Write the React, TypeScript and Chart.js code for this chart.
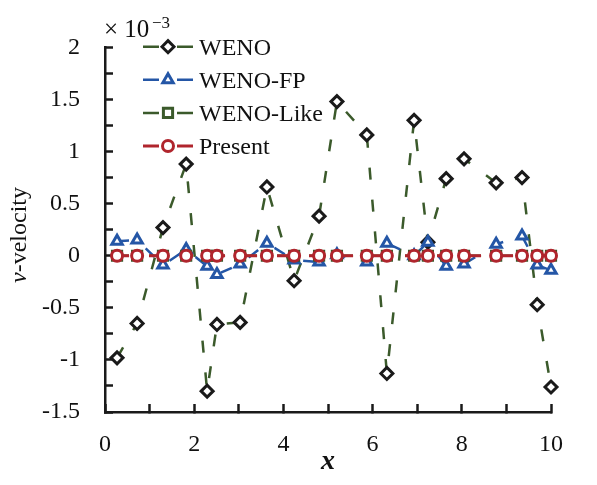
import React, { useEffect, useRef } from 'react';
import { Chart, registerables } from 'chart.js';
import { drawPoint } from 'chart.js/helpers';

Chart.register(...registerables);

// ---- data (y values in units of 1e-3) ----
const xValues = [0.27, 0.72, 1.30, 1.82, 2.29, 2.51, 3.03, 3.63, 4.24, 4.80, 5.20, 5.87, 6.32, 6.93, 7.24, 7.65, 8.05, 8.77, 9.35, 9.69, 10.0];
const wenoValues = [-0.98, -0.65, 0.27, 0.88, -1.30, -0.66, -0.64, 0.66, -0.24, 0.38, 1.48, 1.16, -1.13, 1.30, 0.13, 0.74, 0.93, 0.70, 0.75, -0.47, -1.26];
const wenoFpValues = [0.14, 0.15, -0.09, 0.06, -0.10, -0.18, -0.08, 0.12, -0.04, -0.06, 0.01, -0.06, 0.12, 0.0, 0.13, -0.10, -0.08, 0.11, 0.19, -0.09, -0.14];
const wenoLikeValues = [0, 0, 0, 0, 0, 0, 0, 0, 0, 0, 0, 0, 0, 0, 0, 0, 0, 0, 0, 0, 0];
const presentValues = [0, 0, 0, 0, 0, 0, 0, 0, 0, 0, 0, 0, 0, 0, 0, 0, 0, 0, 0, 0, 0];
const seriesNames = ['WENO', 'WENO-FP', 'WENO-Like', 'Present'];
const xTickLabels = ['0', '2', '4', '6', '8', '10'];
const yTickLabels = ['-1.5', '-1', '-0.5', '0', '0.5', '1', '1.5', '2'];

const FONT = "'Liberation Serif', 'Times New Roman', serif";
const AXIS = '#1a1a1a';
const DASH = [12, 20];

const toPoints = (ys: number[]) => xValues.map((x, i) => ({ x, y: ys[i] }));

const extrasPlugin = {
  id: 'extras',
  afterDraw(chart: any) {
    const ctx = chart.ctx as CanvasRenderingContext2D;
    // legend
    chart.data.datasets.forEach((ds: any, i: number) => {
      const y = 46.7 + i * 33.1;
      ctx.save();
      ctx.strokeStyle = ds.borderColor;
      ctx.lineWidth = ds.borderWidth;
      ctx.beginPath();
      ctx.moveTo(143, y);
      ctx.lineTo(159, y);
      ctx.moveTo(177, y);
      ctx.lineTo(193, y);
      ctx.stroke();
      ctx.fillStyle = ds.pointBackgroundColor;
      ctx.strokeStyle = ds.pointBorderColor;
      ctx.lineWidth = ds.pointBorderWidth;
      drawPoint(ctx, { pointStyle: ds.pointStyle, radius: ds.pointRadius, rotation: 0, borderWidth: ds.pointBorderWidth } as any, 168, y);
      ctx.fillStyle = '#111';
      ctx.font = `24px ${FONT}`;
      ctx.textAlign = 'left';
      ctx.textBaseline = 'alphabetic';
      ctx.fillText(ds.label, 199, y + 8);
      ctx.restore();
    });

    // multiplier ×10^-3
    ctx.save();
    ctx.fillStyle = '#111';
    ctx.textBaseline = 'alphabetic';
    ctx.textAlign = 'left';
    ctx.font = `25px ${FONT}`;
    ctx.fillText('\u00d7 10', 104, 37);
    ctx.font = `17px ${FONT}`;
    ctx.fillText('\u22123', 152, 28);
    ctx.restore();

    // y title: italic v + "-velocity"
    ctx.save();
    ctx.fillStyle = '#111';
    ctx.translate(26, 235);
    ctx.rotate(-Math.PI / 2);
    ctx.textBaseline = 'alphabetic';
    ctx.textAlign = 'left';
    ctx.font = `italic 24px ${FONT}`;
    const w1 = ctx.measureText('v').width;
    ctx.font = `24px ${FONT}`;
    const w2 = ctx.measureText('-velocity').width;
    const start = -(w1 + w2) / 2;
    ctx.font = `italic 24px ${FONT}`;
    ctx.fillText('v', start, 0);
    ctx.font = `24px ${FONT}`;
    ctx.fillText('-velocity', start + w1, 0);
    ctx.restore();
  },
};

export default function App() {
  const ref = useRef<HTMLCanvasElement | null>(null);

  useEffect(() => {
    if (!ref.current) return;
    const common = {
      borderWidth: 2.5,
      borderDash: DASH,
      pointBackgroundColor: '#ffffff',
      pointBorderWidth: 3,
      pointRadius: 5.5,
      tension: 0,
      clip: false as any,
    };
    const chart = new Chart(ref.current, {
      type: 'line',
      data: {
        datasets: [
          {
            ...common,
            label: seriesNames[0],
            data: toPoints(wenoValues),
            borderColor: '#3b5a2b',
            pointBorderColor: '#1a1a1a',
            pointStyle: 'rectRot',
            pointRadius: 6,
            order: 4,
          },
          {
            ...common,
            label: seriesNames[1],
            data: toPoints(wenoFpValues),
            borderColor: '#2456a6',
            pointBorderColor: '#2456a6',
            pointStyle: 'triangle',
            pointRadius: 6,
            order: 3,
          },
          {
            ...common,
            label: seriesNames[2],
            data: toPoints(wenoLikeValues),
            borderColor: '#3b5a2b',
            pointBorderColor: '#3b5a2b',
            pointStyle: 'rect',
            pointRadius: 6.5,
            order: 2,
          },
          {
            ...common,
            label: seriesNames[3],
            data: toPoints(presentValues),
            borderColor: '#b0252d',
            pointBorderColor: '#b0252d',
            pointStyle: 'circle',
            pointRadius: 5.5,
            borderWidth: 3,
            order: 1,
          },
        ] as any,
      },
      options: {
        animation: false,
        responsive: false,
        devicePixelRatio: 1,
        layout: { padding: { top: 45, right: 46, left: 0, bottom: 0 } },
        plugins: {
          legend: { display: false },
          tooltip: { enabled: false },
        },
        scales: {
          x: {
            type: 'linear',
            min: 0,
            max: 10,
            afterFit: (s: any) => { s.height = 73; },
            border: { display: true, color: AXIS, width: 2.5 },
            grid: { drawOnChartArea: false, drawTicks: true, tickLength: -8, tickWidth: 2.5, tickColor: AXIS },
            ticks: {
              stepSize: 1,
              autoSkip: false,
              maxRotation: 0,
              padding: 26,
              color: '#111',
              font: { family: FONT, size: 24 },
              callback: (v: any) => (xTickLabels.includes(String(v)) ? String(v) : ''),
            },
            title: {
              display: true,
              text: 'x',
              color: '#111',
              font: { family: FONT, size: 28, style: 'italic', weight: 'bold' },
              padding: { top: 0, bottom: 6 },
            },
          },
          y: {
            type: 'linear',
            min: -1.5,
            max: 2,
            afterFit: (s: any) => { s.width = 105; },
            border: { display: true, color: AXIS, width: 2.5 },
            grid: { drawOnChartArea: false, drawTicks: true, tickLength: -8, tickWidth: 2.5, tickColor: AXIS },
            ticks: {
              stepSize: 0.25,
              autoSkip: false,
              padding: 33,
              color: '#111',
              font: { family: FONT, size: 24 },
              callback: (v: any) => (yTickLabels.includes(String(v)) ? String(v) : ''),
            },
          },
        },
      },
      plugins: [extrasPlugin],
    } as any);
    return () => chart.destroy();
  }, []);

  return (
    <div style={{ position: 'absolute', left: 0, top: 0, width: 597, height: 485, background: '#fff' }}>
      <canvas ref={ref} width={597} height={485} style={{ display: 'block', width: 597, height: 485 }} />
    </div>
  );
}
